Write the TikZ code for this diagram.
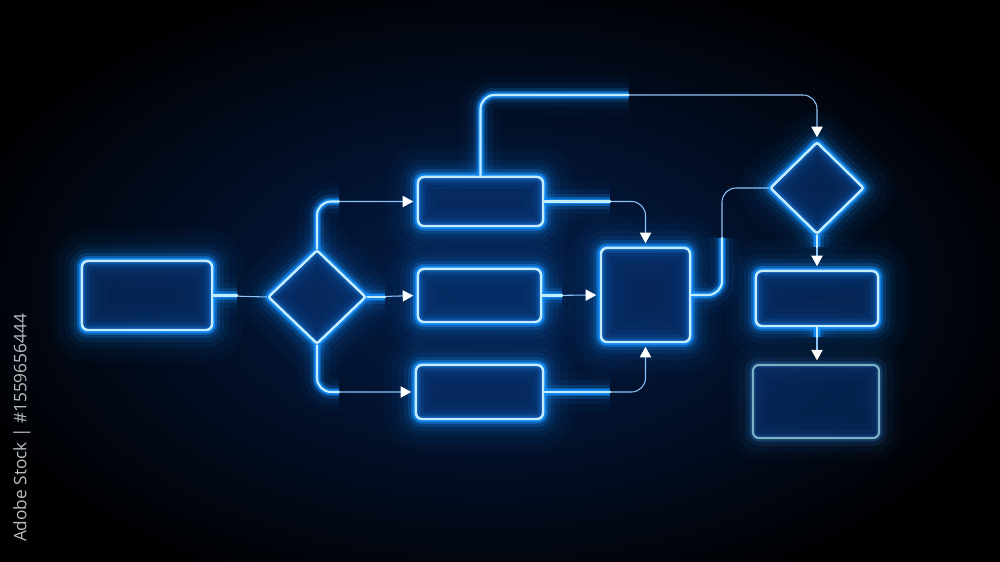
\documentclass[tikz,border=0pt]{standalone}
\usepackage{fontspec}
\setsansfont{Open Sans}
\usetikzlibrary{arrows.meta,shapes.geometric,calc}
\definecolor{core}{RGB}{195,236,255}
\definecolor{glow}{RGB}{20,145,255}
\definecolor{boxfill}{RGB}{8,50,115}
\definecolor{wirec}{RGB}{140,195,250}
\definecolor{bgin}{RGB}{4,30,72}
\definecolor{bgmid}{RGB}{2,16,42}
\definecolor{dimcore}{RGB}{125,178,198}
\definecolor{dimglow}{RGB}{40,125,205}
\definecolor{wm}{RGB}{185,188,192}
\pgfdeclareradialshading{bgglow}{\pgfpoint{0bp}{0bp}}{color(0bp)=(bgin); color(12bp)=(bgmid); color(25bp)=(black); color(50bp)=(black)}
\tikzset{
  neon/.style={draw=core, line width=0.7pt,
    preaction={draw=glow, line width=18pt, draw opacity=0.03},
    preaction={draw=glow, line width=14pt, draw opacity=0.04},
    preaction={draw=glow, line width=10pt, draw opacity=0.06},
    preaction={draw=glow, line width=7pt, draw opacity=0.1},
    preaction={draw=glow, line width=4.5pt, draw opacity=0.2},
    preaction={draw=glow, line width=2.8pt, draw opacity=0.4},
    preaction={draw=glow, line width=1.8pt, draw opacity=0.75}},
  dimneon/.style={draw=dimcore, line width=0.6pt,
    preaction={draw=dimglow, line width=12pt, draw opacity=0.04},
    preaction={draw=dimglow, line width=8pt, draw opacity=0.06},
    preaction={draw=dimglow, line width=4.5pt, draw opacity=0.12},
    preaction={draw=dimglow, line width=2pt, draw opacity=0.3}},
  nbox/.style={neon, rectangle, rounded corners=1.7pt, inner sep=0pt, fill=boxfill, fill opacity=0.6},
  fbox/.style={dimneon, rectangle, rounded corners=1.7pt, inner sep=0pt, fill=boxfill, fill opacity=0.6},
  ndia/.style={neon, diamond, rounded corners=0.6pt, inner sep=0pt, fill=boxfill, fill opacity=0.6},
  wire/.style={draw=wirec, line width=0.3pt},
  nwire/.style={draw=core, line width=0.6pt, line cap=round,
    preaction={draw=glow, line width=11pt, draw opacity=0.035},
    preaction={draw=glow, line width=7pt, draw opacity=0.07},
    preaction={draw=glow, line width=4pt, draw opacity=0.18},
    preaction={draw=glow, line width=2.4pt, draw opacity=0.4},
    preaction={draw=glow, line width=1.5pt, draw opacity=0.75}},
  arr/.style={-{Triangle[length=3pt,width=3.2pt,color=white]}, shorten >=1pt},
  rc/.style={rounded corners=4pt}
}
\begin{document}
\begin{tikzpicture}[x=0.01cm, y=-0.01cm]
\useasboundingbox (0,0) rectangle (1000,562);
\fill[black] (0,0) rectangle (1000,562);
\shade[shading=bgglow] (490,290) ellipse [x radius=560, y radius=330];

% watermark id
\node[font=\fontsize{4.9pt}{5pt}\selectfont\sffamily, text=wm, rotate=90] (wm) at (22,428) {Adobe Stock | \#1559656444};

\coordinate (top) at (0,95);
\coordinate (mid) at (722,0);

% nodes
\node[nbox, minimum width=1.30cm, minimum height=0.69cm] (A) at (147,295.5) {};
\node[ndia, minimum width=0.98cm, minimum height=0.94cm] (D1) at (317,297) {};
\node[nbox, minimum width=1.25cm, minimum height=0.49cm] (B1) at (480.5,201.5) {};
\node[nbox, minimum width=1.23cm, minimum height=0.53cm] (B2) at (479.5,295.5) {};
\node[nbox, minimum width=1.27cm, minimum height=0.54cm] (B3) at (479.5,392) {};
\node[nbox, minimum width=0.89cm, minimum height=0.94cm] (C) at (645.5,295) {};
\node[ndia, minimum width=0.94cm, minimum height=0.92cm] (D2) at (817,188) {};
\node[nbox, minimum width=1.22cm, minimum height=0.55cm] (E) at (817,298.5) {};
\node[fbox, minimum width=1.26cm, minimum height=0.73cm] (F) at (816,401.5) {};

% connectors: thin wires
\draw[wire] (A.east) -- (D1.west);
\draw[wire, arr, rc] (D1.north) |- (B1.west);
\draw[wire, arr] (D1.east) -- (B2.west);
\draw[wire, arr, rc] (D1.south) |- (B3.west);
\draw[wire, arr, rc] (B1.north) |- (top -| D2.north) -- (D2.north);
\draw[wire, arr, rc] (B1.east) -| (C.north);
\draw[wire, arr] (B2.east) -- (C.west);
\draw[wire, arr, rc] (B3.east) -| (C.south);
\draw[wire, rc] (C.east) -| (mid |- D2.west) -- (D2.west);
\draw[wire, arr] (D2.south) -- (E.north);
\draw[wire, arr] (E.south) -- (E.south |- F.north);

% connectors: glowing segments
\draw[nwire] (A.east) -- ($(A.east)+(24,0)$);
\draw[nwire, rc] (D1.north) |- ($(D1.north |- B1.west)+(22,0)$);
\draw[nwire] (D1.east) -- ($(D1.east)+(18,0)$);
\draw[nwire, rc] (D1.south) |- ($(D1.south |- B3.west)+(22,0)$);
\draw[nwire, rc] (B1.north) |- ($(B1.north |- top)+(148,0)$);
\draw[nwire] (B1.east) -- ($(B1.east)+(66,0)$);
\draw[nwire] (B2.east) -- ($(B2.east)+(20,0)$);
\draw[nwire] (B3.east) -- ($(B3.east)+(66,0)$);
\draw[nwire, rc] (C.east) -| ($(mid |- C.east)+(0,-57)$);
\draw[nwire] (D2.south) -- ($(D2.south)+(0,12)$);
\draw[nwire] (E.south) -- ($(E.south)+(0,10)$);
\end{tikzpicture}
\end{document}
